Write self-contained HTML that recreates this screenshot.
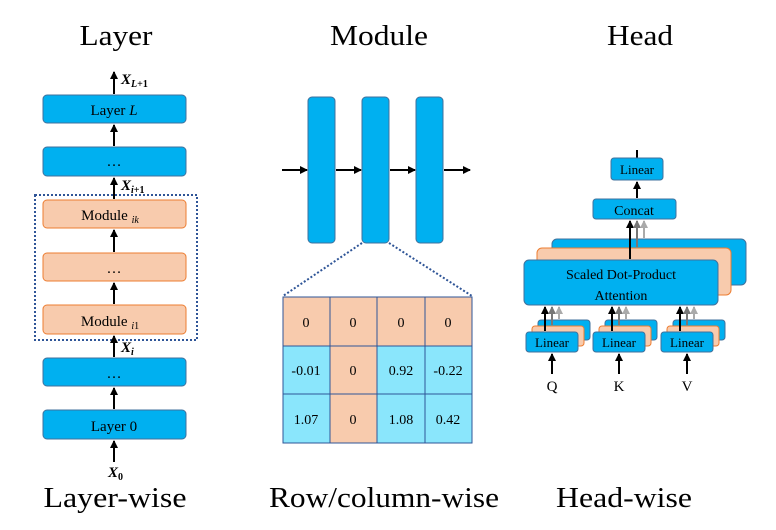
<!DOCTYPE html>
<html><head><meta charset="utf-8"><style>
html,body{margin:0;padding:0;background:#fff;}
svg{display:block;font-family:"Liberation Serif",serif;}
</style></head><body>
<svg width="776" height="530" viewBox="0 0 776 530" xmlns="http://www.w3.org/2000/svg">
<defs>
<marker id="a" markerWidth="8" markerHeight="8" refX="7" refY="4" orient="auto" markerUnits="userSpaceOnUse"><path d="M0,0 L8,4 L0,8 Z" fill="#000"/></marker>
<marker id="ag" markerWidth="8" markerHeight="8" refX="7" refY="4" orient="auto" markerUnits="userSpaceOnUse"><path d="M0,0 L8,4 L0,8 Z" fill="#777"/></marker>
<marker id="al" markerWidth="8" markerHeight="8" refX="7" refY="4" orient="auto" markerUnits="userSpaceOnUse"><path d="M0,0 L8,4 L0,8 Z" fill="#aaa"/></marker>
</defs>
<!-- titles -->
<g font-size="28" text-anchor="middle">
<text x="116" y="45" textLength="73" lengthAdjust="spacingAndGlyphs">Layer</text>
<text x="379" y="45" textLength="98" lengthAdjust="spacingAndGlyphs">Module</text>
<text x="640" y="45" textLength="66" lengthAdjust="spacingAndGlyphs">Head</text>
<text x="115" y="507" textLength="143" lengthAdjust="spacingAndGlyphs">Layer-wise</text>
<text x="384" y="507" textLength="230" lengthAdjust="spacingAndGlyphs">Row/column-wise</text>
<text x="624" y="507" textLength="136" lengthAdjust="spacingAndGlyphs">Head-wise</text>
</g>
<!-- left column -->
<g stroke="#41719c" stroke-width="1">
<rect x="43" y="95" width="143" height="28" rx="4" fill="#00b0f0"/>
<rect x="43" y="147" width="143" height="29" rx="4" fill="#00b0f0"/>
<rect x="43" y="358" width="143" height="28" rx="4" fill="#00b0f0"/>
<rect x="43" y="410" width="143" height="29" rx="4" fill="#00b0f0"/>
</g>
<g stroke="#ed7d31" stroke-width="1" fill="#f8cbad">
<rect x="43" y="200" width="143" height="28" rx="4"/>
<rect x="43" y="253" width="143" height="28" rx="4"/>
<rect x="43" y="305" width="143" height="29" rx="4"/>
</g>
<rect x="35" y="195" width="162" height="145" fill="none" stroke="#2f5597" stroke-width="2" stroke-dasharray="2,2"/>
<g stroke="#000" stroke-width="2" marker-end="url(#a)">
<line x1="114" y1="94" x2="114" y2="72"/>
<line x1="114" y1="146" x2="114" y2="125"/>
<line x1="114" y1="199" x2="114" y2="178"/>
<line x1="114" y1="252" x2="114" y2="230"/>
<line x1="114" y1="304" x2="114" y2="283"/>
<line x1="114" y1="357" x2="114" y2="336"/>
<line x1="114" y1="409" x2="114" y2="388"/>
<line x1="114" y1="462" x2="114" y2="441"/>
</g>
<g font-size="15" text-anchor="middle">
<text x="114" y="115">Layer <tspan font-style="italic">L</tspan></text>
<text x="114" y="166">…</text>
<text x="110" y="220">Module <tspan font-size="10" font-style="italic" dy="3">ik</tspan></text>
<text x="114" y="273">…</text>
<text x="110" y="326">Module <tspan font-size="10" font-style="italic" dy="3">i</tspan><tspan font-size="10" dy="0">1</tspan></text>
<text x="114" y="378">…</text>
<text x="114" y="431">Layer 0</text>
</g>
<g font-size="15" font-style="italic" font-weight="bold">
<text x="121" y="84">X<tspan font-size="10" dy="3">L</tspan><tspan font-size="10" font-style="normal">+1</tspan></text>
<text x="121" y="190">X<tspan font-size="10" dy="3">i</tspan><tspan font-size="10" font-style="normal">+1</tspan></text>
<text x="121" y="352">X<tspan font-size="10" dy="3">i</tspan></text>
<text x="108" y="477">X<tspan font-size="10" dy="3" font-style="normal">0</tspan></text>
</g>
<!-- middle -->
<g stroke="#41719c" fill="#00b0f0">
<rect x="308" y="97" width="27" height="146" rx="4"/>
<rect x="362" y="97" width="27" height="146" rx="4"/>
<rect x="416" y="97" width="27" height="146" rx="4"/>
</g>
<g stroke="#000" stroke-width="2" marker-end="url(#a)">
<line x1="282" y1="170" x2="307" y2="170"/>
<line x1="336" y1="170" x2="361" y2="170"/>
<line x1="390" y1="170" x2="415" y2="170"/>
<line x1="444" y1="170" x2="470" y2="170"/>
</g>
<g stroke="#2f5597" stroke-width="2" stroke-dasharray="2,2">
<line x1="362" y1="243" x2="283" y2="296"/>
<line x1="389" y1="243" x2="472" y2="296"/>
</g>
<g stroke="#2f5597" stroke-width="1">
<rect x="283" y="297" width="47" height="49" fill="#f8cbad"/>
<rect x="330" y="297" width="47" height="49" fill="#f8cbad"/>
<rect x="377" y="297" width="48" height="49" fill="#f8cbad"/>
<rect x="425" y="297" width="47" height="49" fill="#f8cbad"/>
<rect x="283" y="346" width="47" height="48" fill="#8ae6fc"/>
<rect x="330" y="346" width="47" height="48" fill="#f8cbad"/>
<rect x="377" y="346" width="48" height="48" fill="#8ae6fc"/>
<rect x="425" y="346" width="47" height="48" fill="#8ae6fc"/>
<rect x="283" y="394" width="47" height="49" fill="#8ae6fc"/>
<rect x="330" y="394" width="47" height="49" fill="#f8cbad"/>
<rect x="377" y="394" width="48" height="49" fill="#8ae6fc"/>
<rect x="425" y="394" width="47" height="49" fill="#8ae6fc"/>
</g>
<g font-size="14" text-anchor="middle">
<text x="306" y="327">0</text><text x="353" y="327">0</text><text x="401" y="327">0</text><text x="448" y="327">0</text>
<text x="306" y="375">-0.01</text><text x="353" y="375">0</text><text x="401" y="375">0.92</text><text x="448" y="375">-0.22</text>
<text x="306" y="424">1.07</text><text x="353" y="424">0</text><text x="401" y="424">1.08</text><text x="448" y="424">0.42</text>
</g>
<!-- right -->
<line x1="637" y1="150" x2="637" y2="158" stroke="#000" stroke-width="2"/>
<g stroke="#41719c">
<rect x="611" y="158" width="52" height="22" rx="3" fill="#00b0f0"/>
<rect x="593" y="199" width="83" height="20" rx="3" fill="#00b0f0"/>
<rect x="552" y="239" width="194" height="46" rx="5" fill="#00b0f0"/>
</g>
<rect x="537" y="248" width="194" height="47" rx="5" fill="#f8cbad" stroke="#ed7d31"/>
<rect x="524" y="260" width="194" height="45" rx="5" fill="#00b0f0" stroke="#41719c"/>
<line x1="637" y1="198" x2="637" y2="182" stroke="#000" stroke-width="2" marker-end="url(#a)"/>
<line x1="630" y1="259" x2="630" y2="221" stroke="#000" stroke-width="2" marker-end="url(#a)"/>
<line x1="637" y1="247" x2="637" y2="221" stroke="#777" stroke-width="2" marker-end="url(#ag)"/>
<line x1="644" y1="238" x2="644" y2="221" stroke="#aaa" stroke-width="2" marker-end="url(#al)"/>
<g font-size="14" text-anchor="middle">
<text x="637" y="174" font-size="13">Linear</text>
<text x="634" y="215">Concat</text>
<text x="621" y="279">Scaled Dot-Product</text>
<text x="621" y="300">Attention</text>
</g>
<g id="lin">
<rect x="538" y="320" width="52" height="20" rx="3" fill="#00b0f0" stroke="#41719c"/>
<rect x="532" y="326" width="52" height="20" rx="3" fill="#f8cbad" stroke="#ed7d31"/>
<rect x="526" y="332" width="52" height="20" rx="3" fill="#00b0f0" stroke="#41719c"/>
<text x="552" y="347" font-size="13" text-anchor="middle">Linear</text>
<line x1="545" y1="331" x2="545" y2="307" stroke="#000" stroke-width="2" marker-end="url(#a)"/>
<line x1="552" y1="325" x2="552" y2="307" stroke="#777" stroke-width="2" marker-end="url(#ag)"/>
<line x1="559" y1="319" x2="559" y2="307" stroke="#aaa" stroke-width="2" marker-end="url(#al)"/>
<line x1="552" y1="374" x2="552" y2="354" stroke="#000" stroke-width="2" marker-end="url(#a)"/>
</g>
<use href="#lin" x="67" y="0"/>
<use href="#lin" x="135" y="0"/>
<g font-size="15" text-anchor="middle">
<text x="552" y="391">Q</text><text x="619" y="391">K</text><text x="687" y="391">V</text>
</g>
</svg>
</body></html>
